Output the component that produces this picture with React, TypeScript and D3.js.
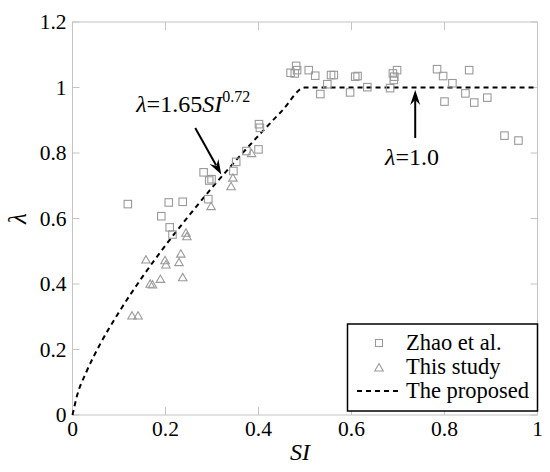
import React from "react";
import * as d3 from "d3";

const zhaoSI = [0.119,0.207,0.237,0.191,0.209,0.215,0.282,0.294,0.299,0.292,0.346,0.352,0.374,0.400,0.401,0.403,0.469,0.481,0.483,0.478,0.508,0.522,0.533,0.548,0.556,0.562,0.597,0.608,0.613,0.634,0.683,0.689,0.692,0.691,0.698,0.784,0.797,0.817,0.853,0.845,0.800,0.864,0.892,0.929,0.959];
const zhaoLambda = [0.644,0.649,0.651,0.607,0.573,0.551,0.741,0.716,0.720,0.659,0.745,0.773,0.806,0.811,0.888,0.877,1.045,1.066,1.053,1.043,1.053,1.036,0.980,1.010,1.038,1.038,0.985,1.033,1.035,1.001,0.998,1.043,1.033,1.023,1.053,1.056,1.035,1.013,1.053,0.982,0.957,0.954,0.969,0.853,0.838];

const studySI = [0.128,0.141,0.158,0.167,0.172,0.189,0.199,0.201,0.229,0.233,0.237,0.244,0.246,0.298,0.341,0.345,0.385];
const studyLambda = [0.302,0.302,0.473,0.399,0.397,0.414,0.471,0.458,0.465,0.491,0.419,0.555,0.544,0.636,0.697,0.723,0.798];

const proposedSI = [0, 0.01, 0.03, 0.06, 0.1, 0.15, 0.2, 0.25, 0.3, 0.35, 0.4, 0.45, 0.5, 1.0];
const proposedLambda = [0, 0.06, 0.132, 0.218, 0.314, 0.421, 0.518, 0.608, 0.694, 0.775, 0.853, 0.928, 1.0, 1.0];

const xTicks = [0, 0.2, 0.4, 0.6, 0.8, 1];
const xTickLabels = ["0", "0.2", "0.4", "0.6", "0.8", "1"];
const yTicks = [0, 0.2, 0.4, 0.6, 0.8, 1, 1.2];
const yTickLabels = ["0", "0.2", "0.4", "0.6", "0.8", "1", "1.2"];

const legendLabels = ["Zhao et al.", "This study", "The proposed"];

const W = 550, H = 472;
const L = 72.5, R = 537.5, T = 22, B = 415;
const FONT = "Liberation Serif, Times New Roman, serif";
const AXIS = "#c4c4c4";
const MARK = "#9a9a9a";

export default function App() {
  const x = d3.scaleLinear().domain([0, 1]).range([L, R]);
  const y = d3.scaleLinear().domain([0, 1.2]).range([B, T]);

  const line = d3
    .line<number>()
    .x((_, i) => x(proposedSI[i]))
    .y((d) => y(d))
    .curve(d3.curveMonotoneX);
  const linePath = line(proposedLambda) || "";

  const sq = 7.5;
  const triPath = (cx: number, cy: number) => {
    const s = 8.5;
    const h = s * 0.866;
    return `M${cx},${cy - h * 0.6}L${cx + s / 2},${cy + h * 0.4}L${cx - s / 2},${cy + h * 0.4}Z`;
  };

  const a1from = [0.264, 0.876];
  const a1to = [0.32, 0.734];
  const a2from = [0.737, 0.846];
  const a2to = [0.737, 0.992];

  const arrowHead = (fx: number, fy: number, tx: number, ty: number) => {
    const ang = Math.atan2(ty - fy, tx - fx);
    const len = 15, half = 5, notch = 10;
    const ux = Math.cos(ang), uy = Math.sin(ang);
    const px = -uy, py = ux;
    const bx = tx - ux * len, by = ty - uy * len;
    const nx = tx - ux * notch, ny = ty - uy * notch;
    return `M${tx},${ty}L${bx + px * half},${by + py * half}L${nx},${ny}L${bx - px * half},${by - py * half}Z`;
  };

  const p1f = [x(a1from[0]), y(a1from[1])];
  const p1t = [x(a1to[0]), y(a1to[1])];
  const p2f = [x(a2from[0]), y(a2from[1])];
  const p2t = [x(a2to[0]), y(a2to[1])];

  const lgX = 347.5, lgY = 324, lgW = R - 347.5, lgH = 87;

  return (
    <svg
      width={W}
      height={H}
      style={{ position: "absolute", left: 0, top: 0, background: "#fff", fontFamily: FONT }}
    >
      <rect x={0} y={0} width={W} height={H} fill="#fff" />
      <rect x={L} y={T} width={R - L} height={B - T} fill="none" stroke={AXIS} strokeWidth={1} />
      {xTicks.map((t, i) => (
        <g key={"xt" + i}>
          <line x1={x(t)} x2={x(t)} y1={B} y2={B - 8} stroke={AXIS} />
          <line x1={x(t)} x2={x(t)} y1={T} y2={T + 8} stroke={AXIS} />
          <text x={x(t)} y={B + 21} fontSize={21.5} textAnchor="middle" fill="#000">
            {xTickLabels[i]}
          </text>
        </g>
      ))}
      {yTicks.map((t, i) => (
        <g key={"yt" + i}>
          <line x1={L} x2={L + 7} y1={y(t)} y2={y(t)} stroke={AXIS} />
          <line x1={R} x2={R - 7} y1={y(t)} y2={y(t)} stroke={AXIS} />
          <text x={L - 6} y={y(t) + 7} fontSize={21.5} textAnchor="end" fill="#000">
            {yTickLabels[i]}
          </text>
        </g>
      ))}
      <text x={(L + R) / 2 - 5} y={460} fontSize={24} fontStyle="italic" textAnchor="middle">
        SI
      </text>
      <text
        transform={`translate(26,${(T + B) / 2}) rotate(-90)`}
        fontSize={25}
        fontStyle="italic"
        textAnchor="middle"
      >
        λ
      </text>

      <path d={linePath} fill="none" stroke="#000" strokeWidth={2} strokeDasharray="5,4" />

      {zhaoSI.map((s, i) => (
        <rect
          key={"z" + i}
          x={x(s) - sq / 2}
          y={y(zhaoLambda[i]) - sq / 2}
          width={sq}
          height={sq}
          fill="none"
          stroke={MARK}
          strokeWidth={1.1}
        />
      ))}
      {studySI.map((s, i) => (
        <path
          key={"s" + i}
          d={triPath(x(s), y(studyLambda[i]))}
          fill="none"
          stroke={MARK}
          strokeWidth={1.1}
        />
      ))}

      <line x1={p1f[0]} y1={p1f[1]} x2={p1t[0] - (p1t[0] - p1f[0]) * 0.2} y2={p1t[1] - (p1t[1] - p1f[1]) * 0.2} stroke="#000" strokeWidth={2} />
      <path d={arrowHead(p1f[0], p1f[1], p1t[0], p1t[1])} fill="#000" />
      <line x1={p2f[0]} y1={p2f[1]} x2={p2t[0]} y2={p2t[1] + 10} stroke="#000" strokeWidth={2} />
      <path d={arrowHead(p2f[0], p2f[1], p2t[0], p2t[1])} fill="#000" />

      <text x={x(0.137)} y={y(0.925)} fontSize={24} fill="#000">
        <tspan fontStyle="italic">λ</tspan>
        <tspan>=1.65</tspan>
        <tspan fontStyle="italic">SI</tspan>
        <tspan fontSize={16} dy={-10}>0.72</tspan>
      </text>
      <text x={x(0.672)} y={y(0.763)} fontSize={24} fill="#000">
        <tspan fontStyle="italic">λ</tspan>
        <tspan>=1.0</tspan>
      </text>

      <rect x={lgX} y={lgY} width={lgW} height={lgH} fill="#fff" stroke="#000" strokeWidth={1.5} />
      <rect x={379 - 3.5} y={343 - 3.5} width={7} height={7} fill="none" stroke={MARK} strokeWidth={1.1} />
      <path d={triPath(379, 368)} fill="none" stroke={MARK} strokeWidth={1.1} />
      <line x1={357} x2={401} y1={391} y2={391} stroke="#000" strokeWidth={2} strokeDasharray="5,4" />
      {legendLabels.map((lab, i) => (
        <text key={"lg" + i} x={406} y={350 + i * 24} fontSize={22.5} fill="#000">
          {lab}
        </text>
      ))}
    </svg>
  );
}
